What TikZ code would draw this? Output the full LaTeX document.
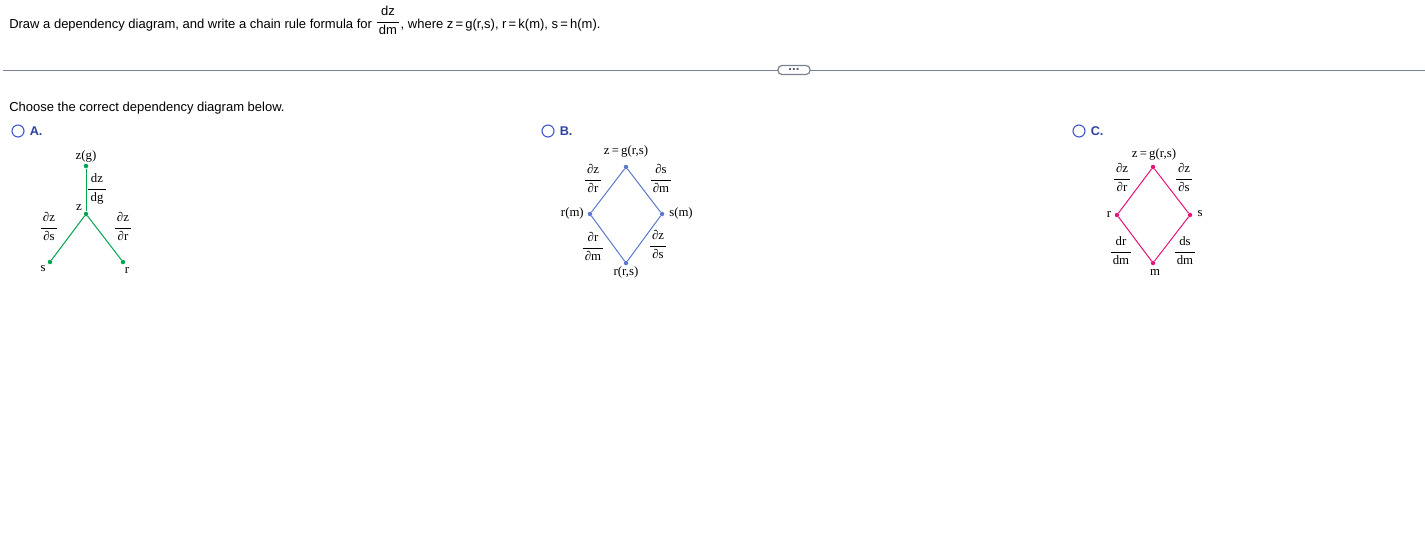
\documentclass[tikz,border=0pt]{standalone}
\usepackage{fontspec}
\setmainfont{Liberation Serif}
\newfontfamily\arialfont{Liberation Sans}
\usetikzlibrary{positioning}

\newlength{\du}
\setlength{\du}{0.75\unitlength}

\definecolor{rulegray}{rgb}{0.470000, 0.510000, 0.570000}
\definecolor{radioblue}{rgb}{0.250000, 0.340000, 0.800000}
\definecolor{letterblue}{rgb}{0.180000, 0.250000, 0.620000}
\definecolor{greenline}{rgb}{0.000000, 0.650000, 0.310000}
\definecolor{blueline}{rgb}{0.360000, 0.470000, 0.800000}
\definecolor{pinkline}{rgb}{0.900000, 0.080000, 0.480000}

% fraction as stacked text
\newcommand{\stackfrac}[2]{\begin{tabular}{@{\,}c@{\,}}#1\\[1.5pt]\hline\rule{0pt}{8.5pt}#2\end{tabular}}

\tikzset{
  arialtext/.style={font=\arialfont\fontsize{9.75}{11}\selectfont, inner sep=0pt, anchor=west},
  vartext/.style={font=\fontsize{9.6}{11}\selectfont, inner sep=0pt},
  radio/.style={circle, draw=radioblue, line width=1.1\du, minimum size=12\du, inner sep=0pt},
  letter/.style={font=\arialfont\bfseries\fontsize{9.5}{11}\selectfont, text=letterblue, inner sep=0pt, anchor=west},
  dotgreen/.style={circle, fill=greenline, inner sep=0pt, minimum size=4.5\du},
  dotblue/.style={circle, fill=blueline, inner sep=0pt, minimum size=4.5\du},
  dotpink/.style={circle, fill=pinkline, inner sep=0pt, minimum size=4.5\du},
}

\begin{document}
\begin{tikzpicture}
\pgftransformxscale{1.000000}
\pgftransformyscale{-1.000000}
\useasboundingbox (0\du,0\du) rectangle (1425\du,533\du);
% question line
\node[arialtext] (question) at (9\du,25\du){Draw a dependency diagram, and write a chain rule formula for};
\node[font=\arialfont\fontsize{9.75}{11}\selectfont, inner sep=0pt] (qfrac) at (388\du,22\du){\stackfrac{dz}{dm}};
\node[arialtext, right=1\du of qfrac.east, anchor=west, yshift=-3\du] (qrest){, where z\,=\,g(r,s), r\,=\,k(m), s\,=\,h(m).};
% separator with button
\coordinate (ruleleft) at (3\du,70\du);
\coordinate (ruleright) at (1425\du,70\du);
\draw[rulegray, line width=0.9\du] (ruleleft) -- (ruleright);
\node[draw=rulegray, fill=white, rounded corners=4\du, line width=1.2\du, minimum width=32\du, minimum height=9\du, inner sep=0pt] (more) at (794\du,70\du){};
\node[inner sep=0pt, font=\arialfont\bfseries\fontsize{10}{10}\selectfont, text=rulegray!70!black] (moredots) at (794\du,70\du){...};
% prompt
\node[arialtext] (prompt) at (9\du,108\du){Choose the correct dependency diagram below.};
% setfont left to latex
\node[radio] (radioA) at (18\du,131\du){};
\node[letter, right=5\du of radioA] (letterA){A.};
\node[radio] (radioB) at (548\du,131\du){};
\node[letter, right=5\du of radioB] (letterB){B.};
\node[radio] (radioC) at (1079\du,131\du){};
\node[letter, right=5\du of radioC] (letterC){C.};

% choice A
\node[dotgreen] (gA) at (86\du,166\du){};
\node[dotgreen] (zA) at (86\du,214\du){};
\node[dotgreen] (sA) at (50\du,262\du){};
\node[dotgreen] (rA) at (123\du,262\du){};
\draw[greenline, line width=1\du] (gA) -- (zA);
\draw[greenline, line width=1\du] (zA) -- (sA);
\draw[greenline, line width=1\du] (zA) -- (rA);
\node[vartext] (gAlabel) at (86\du,156\du){z(g)};
\node[vartext] (zAlabel) at (79\du,208\du){z};
\node[vartext] (sAlabel) at (43\du,269\du){s};
\node[vartext] (rAlabel) at (127\du,270\du){r};
\node[vartext] (dzdgA) at (97\du,189\du){\stackfrac{dz}{dg}};
\node[vartext] (dzdsA) at (49\du,228\du){\stackfrac{∂z}{∂s}};
\node[vartext] (dzdrA) at (123\du,228\du){\stackfrac{∂z}{∂r}};

% choice B
\node[dotblue] (zB) at (626\du,167\du){};
\node[dotblue] (rB) at (590\du,214\du){};
\node[dotblue] (sB) at (662\du,214\du){};
\node[dotblue] (mB) at (626\du,263\du){};
\draw[blueline, line width=1\du] (zB) -- (rB) -- (mB) -- (sB) -- (zB);
\node[vartext] (zBlabel) at (626\du,151\du){z\,=\,g(r,s)};
\node[vartext, anchor=east] (rBlabel) at (584\du,213\du){r(m)};
\node[vartext, anchor=west] (sBlabel) at (669\du,213\du){s(m)};
\node[vartext] (mBlabel) at (626\du,272\du){r(r,s)};
\node[vartext] (dzdrB) at (593\du,180\du){\stackfrac{∂z}{∂r}};
\node[vartext] (dsdmB) at (661\du,180\du){\stackfrac{∂s}{∂m}};
\node[vartext] (drdmB) at (593\du,248\du){\stackfrac{∂r}{∂m}};
\node[vartext] (dzdsB) at (658\du,246\du){\stackfrac{∂z}{∂s}};

% choice C
\node[dotpink] (zC) at (1153\du,167\du){};
\node[dotpink] (rC) at (1117\du,215\du){};
\node[dotpink] (sC) at (1190\du,215\du){};
\node[dotpink] (mC) at (1153\du,263\du){};
\draw[pinkline, line width=1\du] (zC) -- (rC) -- (mC) -- (sC) -- (zC);
\node[vartext] (zClabel) at (1154\du,154\du){z\,=\,g(r,s)};
\node[vartext] (rClabel) at (1109\du,214\du){r};
\node[vartext] (sClabel) at (1200\du,214\du){s};
\node[vartext] (mClabel) at (1155\du,272\du){m};
\node[vartext] (dzdrC) at (1122\du,179\du){\stackfrac{∂z}{∂r}};
\node[vartext] (dzdsC) at (1184\du,179\du){\stackfrac{∂z}{∂s}};
\node[vartext] (drdmC) at (1121\du,252\du){\stackfrac{dr}{dm}};
\node[vartext] (dsdmC) at (1185\du,252\du){\stackfrac{ds}{dm}};
\end{tikzpicture}
\end{document}
